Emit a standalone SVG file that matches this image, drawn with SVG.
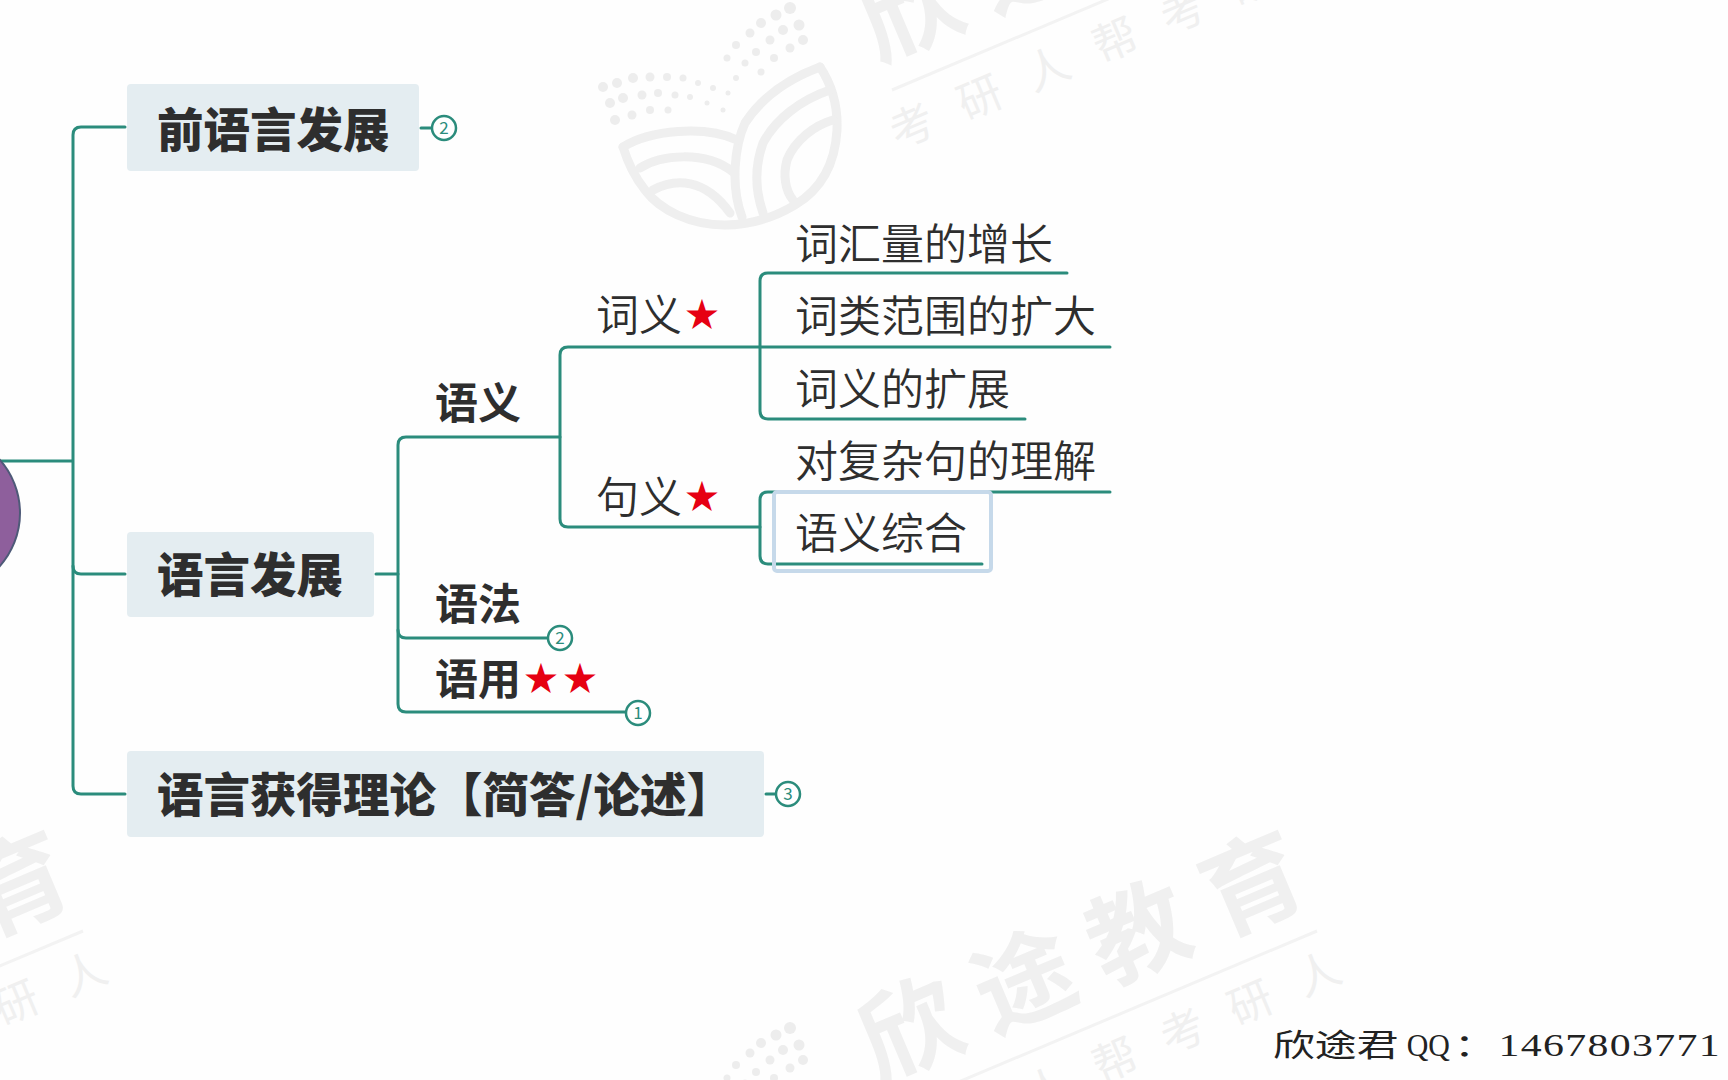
<svg xmlns="http://www.w3.org/2000/svg" width="1728" height="1080" viewBox="0 0 1728 1080">
<style>
text{font-family:"Noto Sans CJK SC","Noto Sans",sans-serif;fill:#2e2e2e}
.box{fill:#e4edf1}
.b{font-size:46.5px;font-weight:900}
.m{font-size:43px;font-weight:700}
.l{font-size:43px;font-weight:350}
.star{fill:#e60012;font-size:34px;font-weight:400}
.c{fill:none;stroke:#2b8c7c;stroke-width:3;stroke-linecap:round;stroke-linejoin:round}
.bd{fill:#fff;stroke:#2b8c7c;stroke-width:2.5}
.n{font-size:17px;font-weight:400;fill:#2b8c7c;text-anchor:middle}
.wl{fill:none;stroke:#efefef;stroke-width:9;stroke-linecap:round;stroke-linejoin:round}
.wd{fill:#ededed}
</style>
<defs>
<g id="tile">
<g class="wd">
<circle cx="603" cy="87" r="5"/><circle cx="617" cy="83" r="5"/><circle cx="633" cy="78" r="5"/><circle cx="650" cy="77" r="4.5"/><circle cx="667" cy="77" r="4"/><circle cx="683" cy="78" r="3.5"/><circle cx="698" cy="83" r="3"/><circle cx="713" cy="88" r="3"/><circle cx="728" cy="93" r="2.5"/>
<circle cx="610" cy="103" r="5"/><circle cx="623" cy="98" r="5"/><circle cx="642" cy="95" r="4.5"/><circle cx="658" cy="93" r="4"/><circle cx="675" cy="95" r="3.5"/><circle cx="690" cy="97" r="3"/><circle cx="707" cy="103" r="2.5"/><circle cx="723" cy="110" r="2.5"/>
<circle cx="615" cy="120" r="5"/><circle cx="632" cy="115" r="4.5"/><circle cx="650" cy="110" r="4"/><circle cx="668" cy="110" r="3.5"/>
<circle cx="790" cy="8" r="6"/><circle cx="776" cy="15" r="5.5"/><circle cx="761" cy="23" r="5"/><circle cx="750" cy="33" r="4.5"/><circle cx="736" cy="45" r="4"/><circle cx="727" cy="58" r="3.5"/>
<circle cx="799" cy="25" r="5.5"/><circle cx="783" cy="30" r="5"/><circle cx="770" cy="40" r="4.5"/><circle cx="756" cy="52" r="4"/><circle cx="745" cy="63" r="3.5"/><circle cx="736" cy="78" r="3"/>
<circle cx="803" cy="40" r="5"/><circle cx="790" cy="48" r="4.5"/><circle cx="774" cy="58" r="4"/><circle cx="761" cy="72" r="3.5"/>
</g>
<g class="wl">
<path d="M820 67C785 80 760 100 745 123C735 145 730 185 742 217"/>
<path d="M820 67C832 85 838 105 837 130C835 165 820 190 795 205C770 220 745 225 725 225C690 225 660 210 645 190C633 175 627 160 623 147"/>
<path d="M830 90C800 100 775 120 763 143C755 165 755 190 763 213"/>
<path d="M833 120C815 125 795 140 787 160C783 175 785 190 793 200"/>
<path d="M623 147C650 130 705 125 737 140"/>
<path d="M640 168C660 155 705 150 733 172"/>
<path d="M653 190C675 178 705 178 730 213"/>
</g>
<text transform="translate(911,7) rotate(-23)" x="-52" y="38" style="fill:#f0f0f0;font-size:100px;font-weight:700;letter-spacing:24px">欣途教育</text>
<path d="M892 90L1317 -89" style="fill:none;stroke:#f3f3f3;stroke-width:3"/>
<text transform="translate(912,126) rotate(-23)" x="-22" y="16" style="fill:#f0f0f0;font-size:44px;letter-spacing:29.5px">考研人帮考研人</text>
</g>
</defs>
<rect width="1728" height="1080" fill="#fefefe"/>
<g id="watermark">
<use href="#tile"/>
<use href="#tile" y="1020"/>
<use href="#tile" x="-1234" y="1020"/>
</g>
<g id="connectors">
<path class="c" d="M0 461H72"/>
<path class="c" d="M125 127H81Q73 127 73 135V786Q73 794 81 794H125"/>
<path class="c" d="M73 566Q73 574 81 574H125"/>
<path class="c" d="M421 128H432"/>
<path class="c" d="M766 794H777"/>
<path class="c" d="M376 574H398"/>
<path class="c" d="M560 437H406Q398 437 398 445V704Q398 712 406 712H626"/>
<path class="c" d="M398 630Q398 638 406 638H548"/>
<path class="c" d="M1110 347H568Q560 347 560 355V519Q560 527 568 527H760"/>
<path class="c" d="M1067 273H768Q760 273 760 281V411Q760 419 768 419H1025"/>
<path class="c" d="M1110 492H768Q760 492 760 500V556Q760 564 768 564H982"/>
</g>
<g id="root"><circle cx="-60" cy="513" r="80" fill="#8e5f9c" stroke="#4e5a78" stroke-width="2"/></g>
<g id="n-qian"><rect class="box" x="127" y="84" width="292" height="87" rx="4"/><text class="b" x="157" y="147">前语言发展</text></g>
<g id="n-qian-b"><circle class="bd" cx="444" cy="128" r="12"/><text class="n" x="444" y="134">2</text></g>
<g id="n-yuyan"><rect class="box" x="127" y="532" width="247" height="85" rx="4"/><text class="b" x="157" y="592">语言发展</text></g>
<g id="n-lilun"><rect class="box" x="127" y="751" width="637" height="86" rx="4"/><text class="b" x="157" y="812">语言获得理论【简答/论述】</text></g>
<g id="n-lilun-b"><circle class="bd" cx="788" cy="794" r="12"/><text class="n" x="788" y="800">3</text></g>
<g id="n-yuyi"><text class="m" x="435" y="419">语义</text></g>
<g id="n-yufa"><text class="m" x="435" y="620">语法</text><circle class="bd" cx="560" cy="638" r="12"/><text class="n" x="560" y="644">2</text></g>
<g id="n-yuyong"><text class="m" x="435" y="695">语用<tspan class="star" x="524" y="691">★</tspan><tspan class="star" x="563" y="691">★</tspan></text><circle class="bd" cx="638" cy="713" r="12"/><text class="n" x="638" y="719">1</text></g>
<g id="n-ciyi"><text class="l" x="596" y="331">词义<tspan class="star" x="685" y="327">★</tspan></text></g>
<g id="n-juyi"><text class="l" x="596" y="513">句义<tspan class="star" x="685" y="509">★</tspan></text></g>
<g id="n-c1"><text class="l" x="795" y="260">词汇量的增长</text></g>
<g id="n-c2"><text class="l" x="795" y="332">词类范围的扩大</text></g>
<g id="n-c3"><text class="l" x="795" y="405">词义的扩展</text></g>
<g id="n-j1"><text class="l" x="795" y="477">对复杂句的理解</text></g>
<g id="n-j2"><rect x="774" y="492" width="217" height="79" rx="3" fill="none" stroke="#c6d9ea" stroke-width="4"/><text class="l" x="795" y="549">语义综合</text></g>
<g id="footer"><text transform="translate(1273,1056) scale(1.35,1)" style="font-family:'Liberation Serif','Noto Sans CJK SC',serif;font-size:31px;fill:#222">欣途君<tspan x="99" textLength="32" lengthAdjust="spacingAndGlyphs">QQ</tspan><tspan x="134">：</tspan><tspan x="167" letter-spacing="1">1467803771</tspan></text></g>
</svg>
